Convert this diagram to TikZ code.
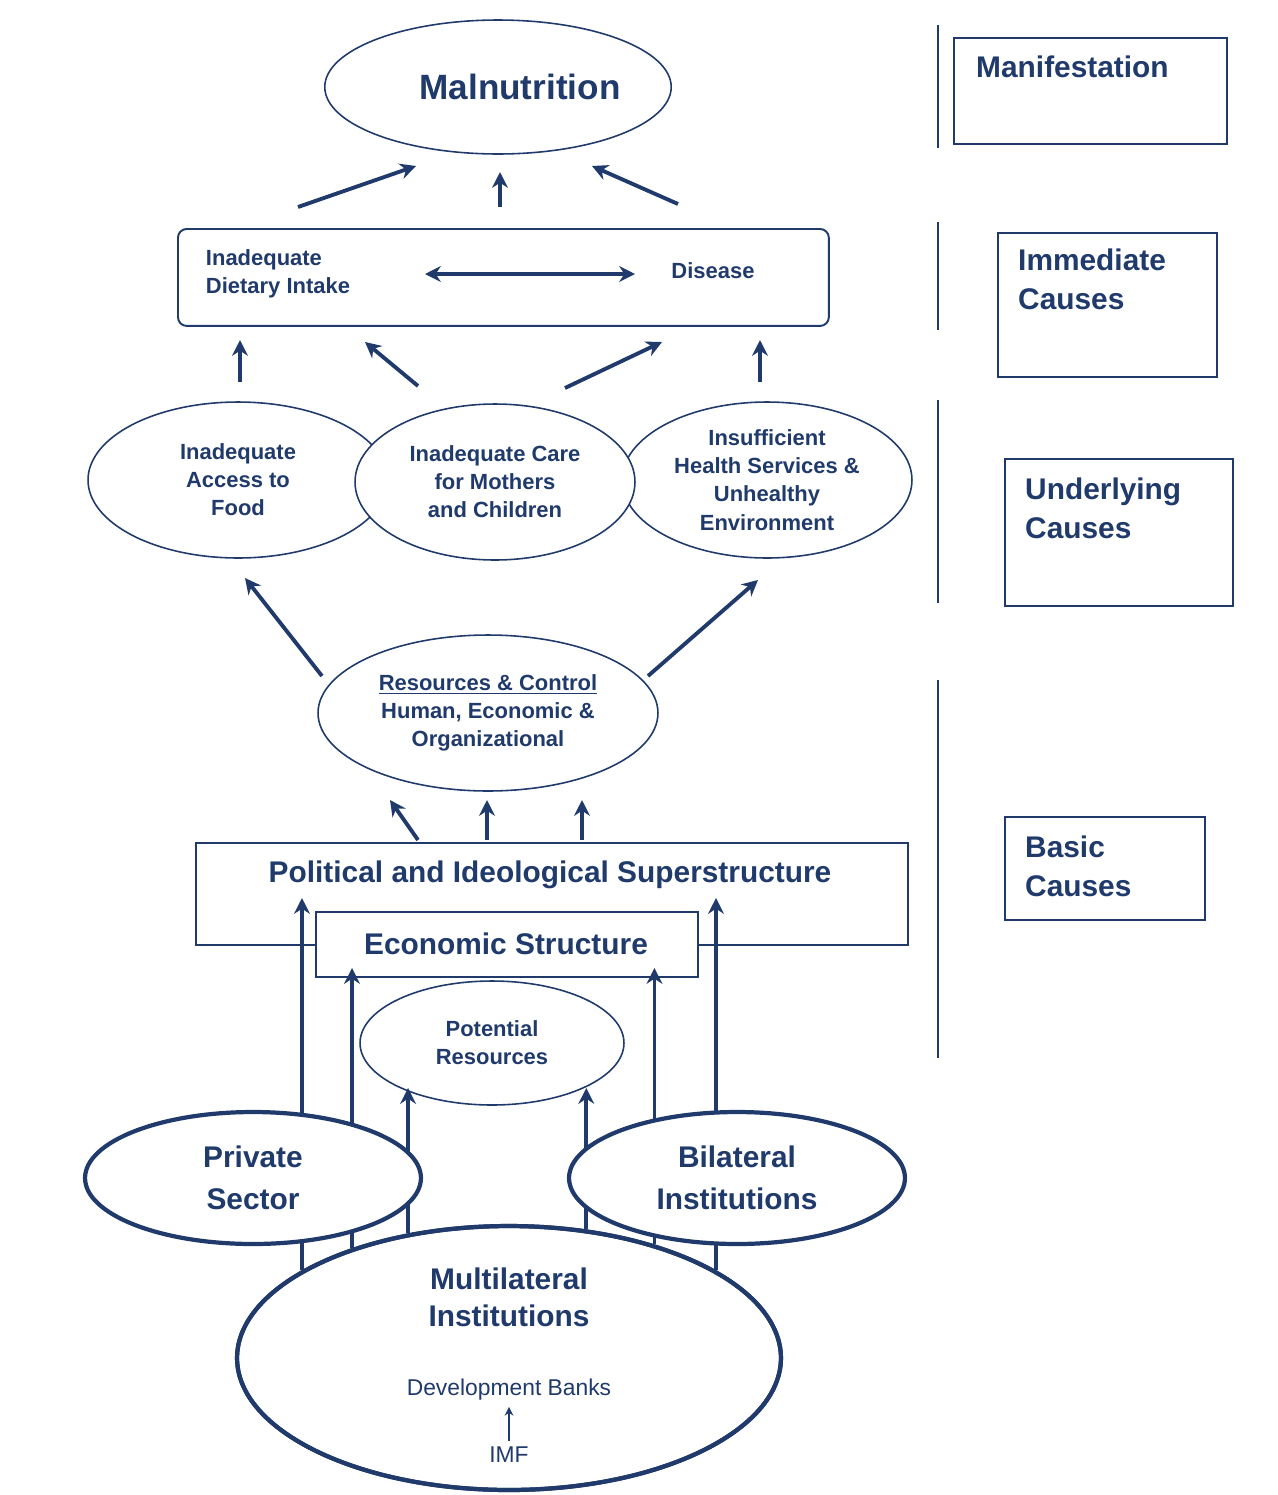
\documentclass[tikz,border=0pt]{standalone}
\usepackage{fontspec}
\setmainfont{Liberation Sans}
\usetikzlibrary{shapes.geometric,arrows.meta}
\definecolor{navy}{HTML}{1F3A6B}
\tikzset{
  oval/.style={ellipse,draw=navy,line width=0.9pt,inner sep=0pt,align=center,
    text=navy,font=\bfseries\fontsize{12.5}{16}\selectfont},
  bigoval/.style={oval,line width=2.4pt,fill=white,font=\bfseries\fontsize{17}{24}\selectfont},
  boxed/.style={draw=navy,line width=1.1pt,inner sep=0pt,anchor=north west},
  sidetext/.style={text=navy,anchor=north west,align=left,
    font=\bfseries\fontsize{17}{22}\selectfont},
  arr/.style={draw=navy,line width=2.2pt,-{Stealth[length=9pt,width=9pt]}},
  sideline/.style={draw=navy,line width=1.1pt},
}
\begin{document}
\begin{tikzpicture}[x=0.02cm,y=-0.02cm]
  \useasboundingbox (0,0) rectangle (1278,1495);

  %% manifestation
  \node[oval,minimum width=5.4cm,minimum height=2.68cm,font=\bfseries\fontsize{20}{24}\selectfont]
    (maln) at (498,87) {\hspace*{25pt}Malnutrition};

  %% immediate causes
  \node[boxed,rounded corners=5pt,minimum width=13.02cm,minimum height=1.94cm] (imm) at (177,228) {};
  \node[text=navy,align=left,font=\bfseries\fontsize{12.5}{16}\selectfont]
    (diet) at (278,274) {Inadequate\\Dietary Intake};
  \node[text=navy,font=\bfseries\fontsize{12.5}{16}\selectfont] (dis) at (713,271) {Disease};
  \coordinate (dl) at (425,274);
  \coordinate (dr) at (635,274);
  \draw[arr,{Stealth[length=9pt,width=9pt]}-{Stealth[length=9pt,width=9pt]}] (dl) -- (dr);

  \draw[arr] (298,207) -- (416,166);
  \draw[arr] (500,207) -- (500,172);
  \draw[arr] (678,204) -- (592,166);

  %% underlying causes
  \node[oval,minimum width=6cm,minimum height=3.12cm] (food) at (238,480)
    {Inadequate\\Access to\\Food};
  \node[oval,minimum width=5.8cm,minimum height=3.12cm] (health) at (767,480)
    {Insufficient\\Health Services \&\\Unhealthy\\Environment};
  \node[oval,minimum width=5.6cm,minimum height=3.12cm,fill=white] (care) at (495,482)
    {Inadequate Care\\for Mothers\\and Children};

  \draw[arr] (240,382) -- (240,340);
  \draw[arr] (418,386) -- (365,342);
  \draw[arr] (565,388) -- (662,342);
  \draw[arr] (760,382) -- (760,340);

  %% basic causes
  \node[oval,minimum width=6.8cm,minimum height=3.12cm] (res) at (488,713)
    {\underline{Resources \& Control}\\Human, Economic \&\\Organizational};
  \draw[arr] (322,676) -- (245,578);
  \draw[arr] (648,676) -- (758,580);

  \node[boxed,minimum width=14.24cm,minimum height=2.04cm] (pol) at (195,842) {};
  \node[text=navy,font=\bfseries\fontsize{17}{20}\selectfont] (polt) at (550,875)
    {Political and Ideological Superstructure};
  \node[boxed,fill=white,minimum width=7.64cm,minimum height=1.3cm] (eco) at (315,911) {};
  \node[text=navy,font=\bfseries\fontsize{17}{20}\selectfont] (ecot) at (506,944)
    {Economic Structure};
  \node[oval,minimum width=5.28cm,minimum height=2.48cm] (pot) at (492,1043)
    {Potential\\Resources};

  \draw[arr] (418,840) -- (390,800);
  \draw[arr] (487,840) -- (487,800);
  \draw[arr] (582,840) -- (582,800);

  \node[bigoval,minimum width=10.88cm,minimum height=5.28cm,fill=none] (multi) at (509,1358) {};
  \coordinate (ptop) at (0,898);
  \coordinate (etop) at (0,968);
  \coordinate (rtop) at (0,1088);
  \draw[arr] (multi.157.8) -- (multi.157.8 |- ptop);
  \draw[arr] (multi.145.1) -- (multi.145.1 |- etop);
  \draw[arr] (multi.129.4) -- (multi.129.4 |- rtop);
  \draw[arr] (multi.59.1) -- (multi.59.1 |- rtop);
  \draw[arr] (multi.38.9) -- (multi.38.9 |- etop);
  \draw[arr] (multi.23.5) -- (multi.23.5 |- ptop);

  \node[bigoval,minimum width=6.72cm,minimum height=2.64cm] (priv) at (253,1178) {Private\\Sector};
  \node[bigoval,minimum width=6.72cm,minimum height=2.64cm] (bil) at (737,1178) {Bilateral\\Institutions};
  \node[bigoval,minimum width=10.88cm,minimum height=5.28cm,fill=none] at (509,1358) {};
  \node[text=navy,align=center,font=\bfseries\fontsize{17}{21}\selectfont] (multit) at (509,1297)
    {Multilateral\\Institutions};
  \node[text=navy,font=\fontsize{13}{16}\selectfont] (dev) at (509,1390) {Development Banks};
  \node[text=navy,font=\fontsize{13}{16}\selectfont] (imf) at (509,1455) {IMF};
  \draw[draw=navy,line width=1pt,-{Stealth[length=5pt,width=5pt]}] (imf) -- (dev);

  %% side labels
  \draw[sideline] (938,25) -- (938,148);
  \draw[sideline] (938,222) -- (938,330);
  \draw[sideline] (938,400) -- (938,603);
  \draw[sideline] (938,680) -- (938,1058);
  \node[boxed,minimum width=5.46cm,minimum height=2.12cm] (manb) at (953,37) {};
  \node[sidetext] (mant) at (970,50) {Manifestation};
  \node[boxed,minimum width=4.38cm,minimum height=2.88cm] (immb) at (997,232) {};
  \node[sidetext] (immt) at (1012,243) {Immediate\\Causes};
  \node[boxed,minimum width=4.56cm,minimum height=2.94cm] (undb) at (1004,458) {};
  \node[sidetext] (undt) at (1019,472) {Underlying\\Causes};
  \node[boxed,minimum width=4cm,minimum height=2.06cm] (basb) at (1004,816) {};
  \node[sidetext] (bast) at (1019,830) {Basic\\Causes};
\end{tikzpicture}
\end{document}
